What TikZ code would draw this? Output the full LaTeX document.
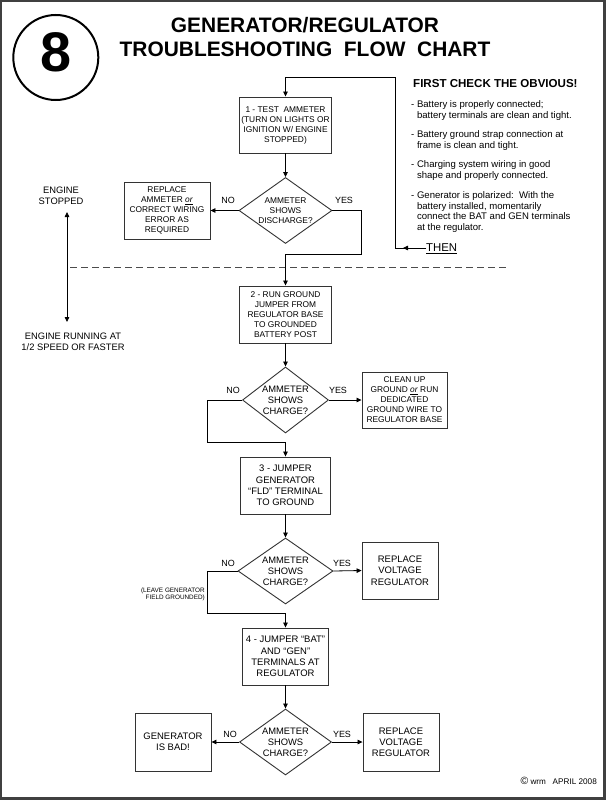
\documentclass[tikz,border=0pt]{standalone}
\usepackage{fontspec}
\setmainfont{Liberation Sans}
\usetikzlibrary{shapes.geometric,arrows.meta}
\begin{document}
\begin{tikzpicture}[x=1bp,y=-1bp,
  box/.style={draw=black!80,line width=0.9bp,inner sep=0pt,align=center},
  fa/.style={font=\fontsize{8.4}{10}\selectfont},
  fb/.style={font=\fontsize{9.5}{11.3}\selectfont},
  fd/.style={font=\fontsize{9.4}{11.2}\selectfont,inner sep=0pt,align=center},
  dia/.style={draw=black!80,line width=0.9bp,diamond,inner sep=0pt,minimum width=93bp,minimum height=66bp},
  conn/.style={draw=black,line width=0.8bp},
  arr/.style={-{Triangle[length=5bp,width=4.5bp]}},
  lbl/.style={font=\fontsize{9}{10}\selectfont,inner sep=0pt},
  side/.style={font=\fontsize{9.4}{11}\selectfont,inner sep=0pt,align=center},
  listtxt/.style={font=\fontsize{9.6}{10.7}\selectfont,inner sep=0pt,anchor=base west},
  titletxt/.style={font=\fontsize{21}{21}\selectfont\bfseries,inner sep=0pt}
]
\useasboundingbox (0,0) rectangle (606,800);
\fill[white] (0,0) rectangle (606,800);
\draw[black!75,line width=2.2bp] (1.1,1.1) rectangle (604.5,798.5);
\draw[black!75,line width=1.2bp] (604.9,1) -- (604.9,799.4) -- (1,799.4);

% number badge and title
\draw[line width=2bp] (55.8,57.5) circle[radius=42.5bp];
\node[font=\fontsize{56}{56}\selectfont\bfseries,inner sep=0pt] (eight) at (55.8,52.5) {8};
\node[titletxt] (t1) at (305,25) {GENERATOR/REGULATOR};
\node[titletxt] (t2) at (305,49.5) {TROUBLESHOOTING\ \ FLOW\ \ CHART};

% first check list
\node[font=\fontsize{11.6}{12}\selectfont\bfseries,inner sep=0pt,anchor=west] (fc) at (413,84) {FIRST CHECK THE OBVIOUS!};
\node[listtxt] (l1a) at (411,107.5) {- Battery is properly connected;};
\node[listtxt] (l1b) at (411,118.5) {\hphantom{- }battery terminals are clean and tight.};
\node[listtxt] (l2a) at (411,137.5) {- Battery ground strap connection at};
\node[listtxt] (l2b) at (411,148.5) {\hphantom{- }frame is clean and tight.};
\node[listtxt] (l3a) at (411,167.5) {- Charging system wiring in good};
\node[listtxt] (l3b) at (411,178.5) {\hphantom{- }shape and properly connected.};
\node[listtxt] (l4a) at (411,198.5) {- Generator is polarized:\ \ With the};
\node[listtxt] (l4b) at (411,209) {\hphantom{- }battery installed, momentarily};
\node[listtxt] (l4c) at (411,219.5) {\hphantom{- }connect the BAT and GEN terminals};
\node[listtxt] (l4d) at (411,230) {\hphantom{- }at the regulator.};
\node[font=\fontsize{11.4}{12}\selectfont,inner sep=0pt,anchor=base west] (then) at (426,251.8) {\underline{THEN}};

% side notes
\node[side] (es) at (61,195.5) {ENGINE\\STOPPED};
\node[side] (er) at (73,341.5) {ENGINE RUNNING AT\\1/2 SPEED OR FASTER};
\coordinate (ea) at (67,212);
\coordinate (eb) at (67,322);
\draw[conn,{Triangle[length=5bp,width=4.5bp]}-{Triangle[length=5bp,width=4.5bp]}] (ea) -- (eb);
\coordinate (dl1) at (70,267);
\coordinate (dl2) at (508,267);
\draw[black!70,line width=1bp,dash pattern=on 7bp off 4bp] (dl1) -- (dl2);

% flow nodes
\node[box,fa,minimum width=92bp,minimum height=56bp] (b1) at (285.5,125) {1 - TEST\ \ AMMETER\\(TURN ON LIGHTS OR\\IGNITION W/ ENGINE\\STOPPED)};
\node[box,fa,minimum width=86bp,minimum height=57bp] (r1) at (167,210.5) {REPLACE\\AMMETER \underline{\textit{or}}\\CORRECT WIRING\\ERROR AS\\REQUIRED};
\node[dia] (d1) at (285.5,210.5) {};
\node[fd,fa] (d1t) at (d1.center) {AMMETER\\SHOWS\\DISCHARGE?};

\node[box,fa,minimum width=92bp,minimum height=57bp] (b2) at (285.5,314.5) {2 - RUN GROUND\\JUMPER FROM\\REGULATOR BASE\\TO GROUNDED\\BATTERY POST};
\node[dia,minimum width=86bp] (d2) at (285.5,400) {};
\node[fd] (d2t) at (d2.center) {AMMETER\\SHOWS\\CHARGE?};
\node[box,fa,minimum width=85bp,minimum height=56bp] (cl) at (404.5,400) {CLEAN UP\\GROUND \underline{\textit{or}} RUN\\DEDICATED\\GROUND WIRE TO\\REGULATOR BASE};

\node[box,fb,minimum width=90bp,minimum height=57bp] (b3) at (285.5,485.5) {3 - JUMPER\\GENERATOR\\“FLD” TERMINAL\\TO GROUND};
\node[dia,minimum width=95bp] (d3) at (285.5,571) {};
\node[fd] (d3t) at (d3.center) {AMMETER\\SHOWS\\CHARGE?};
\node[box,fb,minimum width=76bp,minimum height=57bp] (v1) at (400,570.5) {REPLACE\\VOLTAGE\\REGULATOR};
\node[font=\fontsize{6.4}{7.3}\selectfont,inner sep=0pt,align=right,anchor=east] (lv) at (205,594.5) {(LEAVE GENERATOR\\FIELD GROUNDED)};

\node[box,fb,minimum width=86bp,minimum height=57bp] (b4) at (285.5,656.5) {4 - JUMPER “BAT”\\AND “GEN”\\TERMINALS AT\\REGULATOR};
\node[dia,minimum width=92bp] (d4) at (285.5,742) {};
\node[fd] (d4t) at (d4.center) {AMMETER\\SHOWS\\CHARGE?};
\node[box,fb,minimum width=76bp,minimum height=58bp] (gb) at (173,742) {GENERATOR\\IS BAD!};
\node[box,fb,minimum width=76bp,minimum height=58bp] (v2) at (401,742) {REPLACE\\VOLTAGE\\REGULATOR};

% labels
\node[lbl] (n1) at (228,200) {NO};
\node[lbl] (y1) at (344,200) {YES};
\node[lbl] (n2) at (233,390) {NO};
\node[lbl] (y2) at (338,390) {YES};
\node[lbl] (n3) at (228,563) {NO};
\node[lbl] (y3) at (342,563) {YES};
\node[lbl] (n4) at (230,734) {NO};
\node[lbl] (y4) at (342,734) {YES};

% connectors
\coordinate (c1) at (395,248);
\coordinate (c2) at (395,77);
\coordinate (tharr) at (403,248);
\draw[conn,arr] (then.west |- c1) -- (c1) -- (c2) -| (b1.north);
\draw[conn,arr] (then.west |- c1) -- (tharr);
\draw[conn,arr] (b1.south) -- (d1.north);
\draw[conn,arr] (d1.west) -- (r1.east);
\coordinate (j1) at (285.5,254.5);
\draw[conn,arr] (d1.east) -- ++(28.5,0) |- (j1) -- (b2.north);
\draw[conn,arr] (b2.south) -- (d2.north);
\draw[conn,arr] (d2.east) -- (cl.west);
\coordinate (j2) at (285.5,442);
\draw[conn,arr] (d2.west) -- ++(-35,0) |- (j2) -- (b3.north);
\draw[conn,arr] (b3.south) -- (d3.north);
\draw[conn,arr] (d3.east) -- (v1.west);
\coordinate (j3) at (285.5,613);
\draw[conn,arr] (d3.west) -- ++(-30,0) |- (j3) -- (b4.north);
\draw[conn,arr] (b4.south) -- (d4.north);
\draw[conn,arr] (d4.west) -- (gb.east);
\draw[conn,arr] (d4.east) -- (v2.west);

% credit
\node[font=\fontsize{8.2}{9}\selectfont,inner sep=0pt,anchor=base east] (cr) at (597,784) {{\fontsize{10.5}{10}\selectfont ©} wrm\ \ \ APRIL 2008};
\end{tikzpicture}
\end{document}
